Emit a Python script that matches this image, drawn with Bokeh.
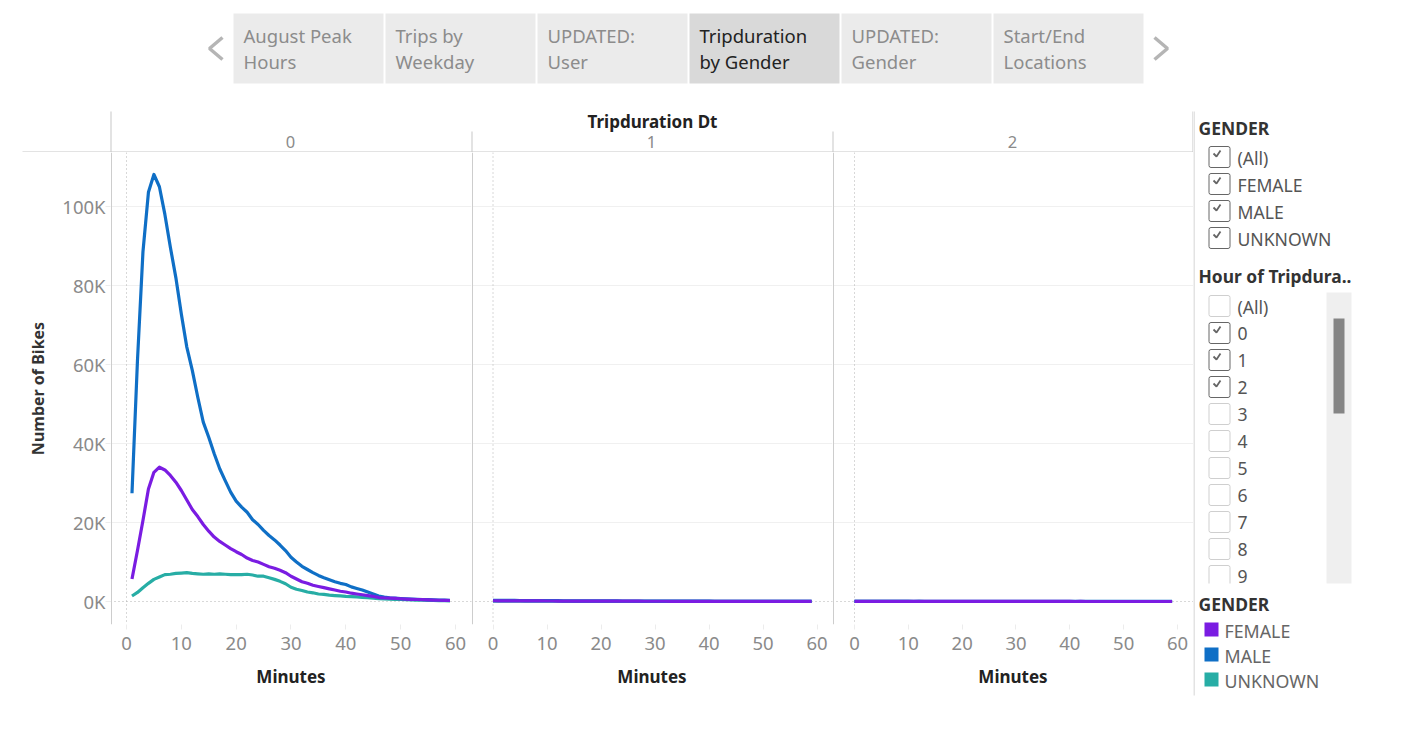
from bokeh.core.properties import value
from bokeh.embed import file_html
from bokeh.resources import INLINE
from bokeh.layouts import row, column
from bokeh.models import Range1d, FixedTicker, Span, ColumnDataSource, LinearAxis
from bokeh.plotting import figure

# ---------- data ----------
tabs = [["August Peak", "Hours"], ["Trips by", "Weekday"], ["UPDATED:", "User"],
        ["Tripduration", "by Gender"], ["UPDATED:", "Gender"], ["Start/End", "Locations"]]
active_tab = 3
facets = ["0", "1", "2"]
genders = ["FEMALE", "MALE", "UNKNOWN"]
hours = ["(All)", "0", "1", "2", "3", "4", "5", "6", "7", "8", "9"]
hours_checked = ["0", "1", "2"]
x_ticks = [0, 10, 20, 30, 40, 50, 60]
y_ticks = [0, 20000, 40000, 60000, 80000, 100000]
y_tick_labels = ["0K", "20K", "40K", "60K", "80K", "100K"]

minutes_0 = list(range(1, 60))
minutes_rest = list(range(0, 60))

male_0 = [27400, 61000, 88500, 103600, 108100, 105000, 98000, 89700, 82000, 72800,
          64400, 58500, 51700, 45400, 41600, 37400, 33600, 30600, 27700, 25400,
          23900, 22600, 20700, 19500, 18000, 16700, 15600, 14300, 12900, 11200,
          10000, 8900, 8100, 7300, 6600, 6000, 5500, 5000, 4600, 4300,
          3700, 3300, 2900, 2400, 1900, 1400, 1100, 950, 850, 750,
          680, 620, 560, 500, 460, 420, 380, 350, 300]
female_0 = [5700, 12900, 20500, 28500, 32700, 34000, 33300, 31900, 30200, 28100,
            25700, 23300, 21500, 19500, 17800, 16300, 15200, 14300, 13400, 12600,
            11900, 11000, 10400, 10000, 9400, 8800, 8400, 7900, 7300, 6400,
            5700, 5000, 4600, 4100, 3800, 3500, 3200, 2900, 2600, 2400,
            2100, 1900, 1700, 1500, 1300, 1000, 900, 850, 780, 700,
            620, 560, 500, 450, 400, 360, 320, 280, 250]
unknown_0 = [1400, 2300, 3500, 4600, 5600, 6200, 6800, 6900, 7100, 7200,
             7300, 7100, 7000, 6900, 7000, 6900, 7000, 6900, 6800, 6800,
             6800, 6900, 6700, 6400, 6400, 6000, 5600, 5100, 4500, 3600,
             3100, 2800, 2400, 2200, 1900, 1800, 1600, 1500, 1400, 1300,
             1250, 1150, 1050, 950, 850, 750, 680, 620, 560, 500,
             450, 400, 360, 320, 280, 250, 220, 200, 180]

male_1 = [300, 290, 280, 270, 260, 255, 245, 240, 230, 220,
          215, 205, 200, 195, 185, 180, 175, 165, 160, 155,
          150, 145, 140, 135, 130, 125, 120, 115, 110, 105,
          100, 98, 95, 90, 88, 85, 80, 78, 75, 72,
          70, 68, 65, 62, 60, 58, 55, 53, 50, 48,
          46, 45, 43, 42, 40, 38, 37, 35, 34, 32]
female_1 = [190, 180, 175, 170, 165, 155, 150, 145, 140, 135,
            130, 125, 120, 118, 112, 108, 105, 100, 96, 92,
            90, 86, 83, 80, 78, 75, 72, 70, 66, 64,
            62, 60, 58, 55, 53, 52, 50, 48, 46, 44,
            42, 40, 39, 38, 36, 35, 34, 32, 31, 30,
            29, 28, 27, 26, 25, 24, 23, 22, 22, 21]
unknown_1 = [90, 88, 85, 82, 80, 76, 74, 70, 68, 66,
             63, 60, 58, 56, 54, 52, 50, 48, 46, 45,
             43, 42, 40, 39, 38, 36, 35, 34, 32, 31,
             30, 29, 28, 27, 26, 25, 24, 23, 22, 22,
             21, 20, 19, 18, 18, 17, 16, 16, 15, 15,
             14, 14, 13, 13, 12, 12, 11, 11, 10, 10]

male_2 = [30, 31, 29, 28, 29, 27, 26, 27, 25, 24,
          25, 23, 24, 22, 23, 21, 22, 20, 21, 20,
          19, 20, 18, 19, 18, 17, 18, 16, 17, 16,
          15, 16, 15, 14, 15, 14, 13, 14, 13, 12,
          13, 12, 12, 11, 12, 11, 10, 11, 10, 10,
          9, 10, 9, 9, 8, 9, 8, 8, 7, 8]
female_2 = [20, 19, 20, 18, 19, 17, 18, 16, 17, 16,
            15, 16, 14, 15, 14, 13, 14, 13, 12, 13,
            12, 11, 12, 11, 11, 10, 11, 10, 9, 10,
            9, 9, 8, 9, 8, 8, 7, 8, 7, 7,
            7, 6, 7, 6, 6, 6, 5, 6, 5, 5,
            5, 5, 4, 5, 4, 4, 4, 4, 3, 4]
unknown_2 = [9, 10, 8, 9, 8, 8, 7, 8, 7, 7,
             7, 6, 7, 6, 6, 6, 5, 6, 5, 5,
             5, 5, 4, 5, 4, 4, 4, 4, 3, 4,
             3, 4, 3, 3, 3, 3, 3, 2, 3, 2,
             2, 3, 2, 2, 2, 2, 2, 2, 1, 2,
             1, 2, 1, 1, 1, 1, 1, 1, 1, 1]

# ---------- style ----------
FONT = "Noto Sans"
PURPLE, BLUE, TEAL = "#7a1ce2", "#0f6fc6", "#27ada5"
LINE = "#c8c8c8"
RULE = "#cdcdcd"
GRID = "#f0f0f0"
TICK = "#8a8a8a"
DARK = "#333333"
PANEL_H = 550
FRAME_H = 472
ZERO_PY = 601
PX_PER_K = 3.95


def bare(w, h, x0, y0):
    """Chrome figure whose data coordinates are page pixels."""
    f = figure(width=w, height=h, output_backend="svg", toolbar_location=None,
               x_range=Range1d(x0, x0 + w), y_range=Range1d(y0 + h, y0),
               min_border=0, outline_line_color=None)
    f.axis.visible = False
    f.grid.visible = False
    return f


def txt(f, x, y, s, size, color, style="normal", align="left"):
    nudge = 0 if align == "center" else 1
    f.text([x - nudge], [y - 1], text=[s], text_font=value(FONT), text_font_size=f"{size}px",
           text_color=color, text_font_style=style, text_align=align,
           text_baseline="middle")


# ---------- header ----------
header = bare(1193, 152, 0, 0)
tab_w, tab_gap, tab_x = 150, 2, 233
for i, lines in enumerate(tabs):
    left = tab_x + i * (tab_w + tab_gap)
    on = i == active_tab
    header.quad(left=[left], right=[left + tab_w], top=[13], bottom=[83],
                fill_color="#d9d9d9" if on else "#ebebeb", line_color=None)
    for j, s in enumerate(lines):
        txt(header, left + 11, 36 + 26 * j, s, 18.5, "#222222" if on else "#8c8c8c")
header.line([222, 209, 222], [37, 48, 59], line_color="#b5b5b5", line_width=3.5)
header.line([1154, 1167, 1154], [37, 48, 59], line_color="#b5b5b5", line_width=3.5)
txt(header, 652, 122, "Tripduration Dt", 17, "#222222", "bold", "center")
for i, s in enumerate(facets):
    txt(header, 290 + 361 * i, 142, s, 16.5, "#8a8a8a", align="center")
header.quad(left=[22], right=[1193], top=[151], bottom=[152], fill_color=LINE, line_color=None)
header.quad(left=[110, 1192], right=[111, 1193], top=[111, 111], bottom=[152, 152],
            fill_color=LINE, line_color=None)
header.quad(left=[471, 832], right=[472, 833], top=[131, 131], bottom=[152, 152],
            fill_color=LINE, line_color=None)


# ---------- panels ----------
def panel(xs, series, x_start, x_end, width, border_left):
    y_start = (ZERO_PY - 624) / PX_PER_K * 1000
    y_end = (ZERO_PY - 152) / PX_PER_K * 1000
    p = figure(width=width, height=PANEL_H, output_backend="svg", toolbar_location=None,
               x_range=Range1d(x_start, x_end), y_range=Range1d(y_start, y_end),
               min_border_left=border_left, min_border_right=0, min_border_top=0,
               min_border_bottom=PANEL_H - FRAME_H, outline_line_color=None)
    p.xaxis.ticker = FixedTicker(ticks=x_ticks)
    p.yaxis.ticker = FixedTicker(ticks=y_ticks)
    p.yaxis.major_label_overrides = dict(zip(y_ticks, y_tick_labels))
    for ax in (p.xaxis, p.yaxis):
        ax.axis_line_color = None
        ax.major_tick_line_color = "#ececec"
        ax.major_tick_in = 0
        ax.major_tick_out = 5
        ax.minor_tick_line_color = None
        ax.major_label_text_font = FONT
        ax.major_label_text_font_size = "18.5px"
        ax.major_label_text_color = TICK
        ax.axis_label_text_font = FONT
        ax.axis_label_text_font_size = "17px"
        ax.axis_label_text_color = "#222222"
        ax.axis_label_text_font_style = "bold"
    p.xaxis.axis_label = "Minutes"
    p.xaxis.major_label_standoff = 7
    p.xaxis.axis_label_standoff = 12
    if border_left:
        p.yaxis.axis_label = "Number of Bikes"
        p.yaxis.major_label_standoff = 0
        p.yaxis.axis_label_standoff = 10
        p.yaxis.axis_label_text_font_size = "16px"
        p.yaxis.axis_label_text_color = DARK
    else:
        p.yaxis.visible = False
    p.xgrid.visible = False
    p.ygrid.ticker = FixedTicker(ticks=y_ticks[1:])
    p.ygrid.grid_line_color = GRID
    p.add_layout(Span(location=0, dimension="width", line_color="#b0b0b0", line_dash=[1, 3],
                      line_width=1, level="underlay"))
    p.add_layout(Span(location=0, dimension="height", line_color="#b0b0b0", line_dash=[1, 3],
                      line_width=1, level="underlay"))
    for values, color in series:
        src = ColumnDataSource(dict(x=xs, y=values))
        p.line("x", "y", source=src, line_color=color, line_width=3.2, line_join="round")

    # Frame rules drawn by label-less axes pinned half a pixel inside the frame edges so
    # that they stay crisp; their long ticks run out into the borders, where other marks
    # would be clipped.
    half_x = 0.5 * (x_end - x_start) / (width - border_left)
    half_y = 0.5 / PX_PER_K * 1000

    def rule_axis(**kw):
        return LinearAxis(major_label_text_alpha=0, major_label_text_font_size="1px",
                          major_label_standoff=0, major_tick_in=0, minor_tick_out=0, minor_tick_in=0,
                          axis_line_color=RULE, major_tick_line_color=RULE, **kw)
    p.add_layout(rule_axis(fixed_location=y_start - half_y, ticker=FixedTicker(ticks=[x_start + half_x]),
                           major_tick_out=543 - FRAME_H), "below")
    p.add_layout(rule_axis(fixed_location=x_start + half_x,
                           ticker=FixedTicker(ticks=[y_start - half_y] if border_left else []),
                           major_tick_out=88), "left")
    return p


p0 = panel(minutes_0, [(unknown_0, TEAL), (male_0, BLUE), (female_0, PURPLE)], -16 / 5.483, 345 / 5.483, 471, 110)
p1 = panel(minutes_rest, [(unknown_1, TEAL), (male_1, BLUE), (female_1, PURPLE)], -21.5 / 5.4, 339.5 / 5.4, 361, 0)
p2 = panel(minutes_rest, [(unknown_2, TEAL), (male_2, BLUE), (female_2, PURPLE)], -22 / 5.383, 339 / 5.383, 361, 0)

# ---------- side ----------
side = bare(215, 702, 1193, 0)
side.quad(left=[1193], right=[1194], top=[111], bottom=[695], fill_color=LINE, line_color=None)


def check_row(y, label, checked):
    side.quad(left=[1208.5], right=[1229.5], top=[y - 11], bottom=[y + 10], fill_color="white",
              line_color="#666666" if checked else "#cfcfcf", line_width=1, border_radius=2)
    if checked:
        side.line([1213, 1216, 1220], [y - 4, y - 1, y - 7], line_color="#666666", line_width=1.8)
    txt(side, 1238, y + 1, label, 17.6, "#555555")


txt(side, 1199, 128, "GENDER", 17.5, DARK, "bold")
for i, s in enumerate(["(All)"] + genders):
    check_row(157 + 27 * i, s, True)
txt(side, 1199, 276, "Hour of Tripdura..", 17.4, DARK, "bold")
side.quad(left=[1326], right=[1351], top=[292], bottom=[583], fill_color="#efefef", line_color=None)
side.quad(left=[1333], right=[1344], top=[318], bottom=[413], fill_color="#858585", line_color=None)
for i, s in enumerate(hours):
    check_row(306 + 27 * i, s, s in hours_checked)
side.quad(left=[1200], right=[1326], top=[583], bottom=[596], fill_color="white", line_color=None)
txt(side, 1199, 604, "GENDER", 17.5, DARK, "bold")
for i, (s, c) in enumerate(zip(genders, [PURPLE, BLUE, TEAL])):
    y = 629 + 25 * i
    side.quad(left=[1204], right=[1218], top=[y - 7], bottom=[y + 7], fill_color=c, line_color=None)
    txt(side, 1225, y + 2, s, 17.8, "#666666")

layout = row(column(header, row(p0, p1, p2, spacing=0), spacing=0), side, spacing=0)
open("out.html", "w").write(file_html(layout, INLINE))
